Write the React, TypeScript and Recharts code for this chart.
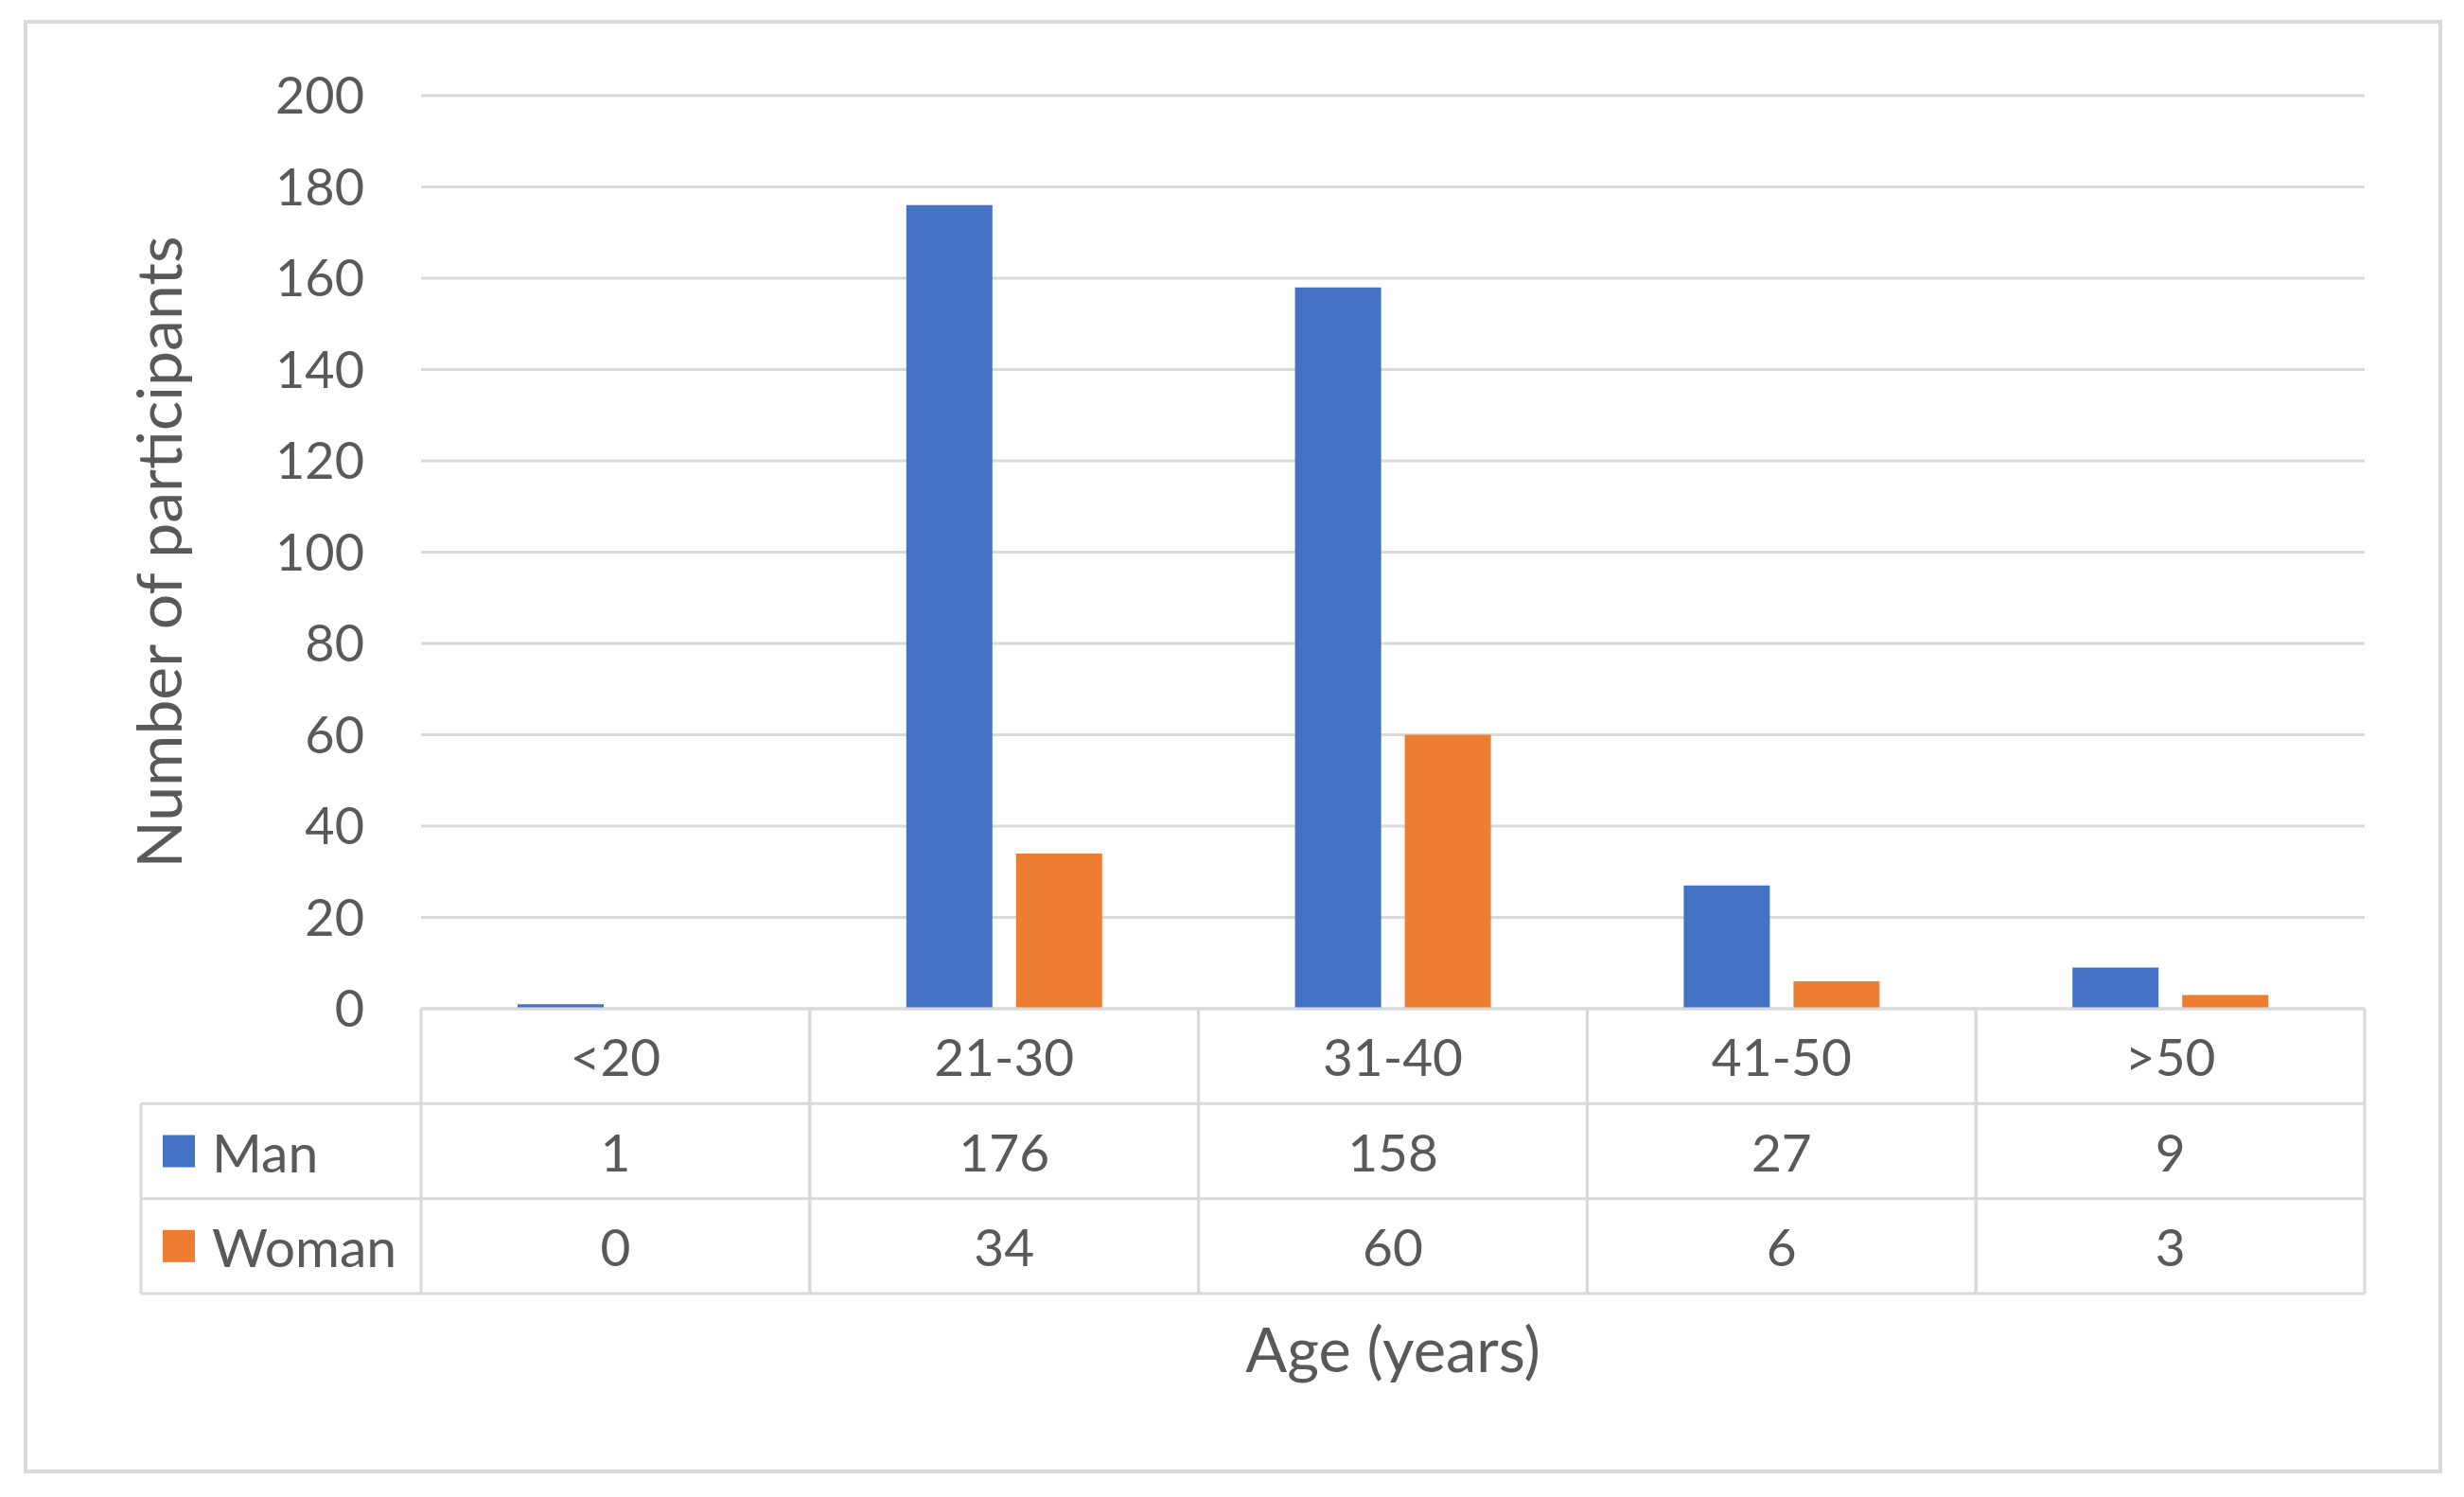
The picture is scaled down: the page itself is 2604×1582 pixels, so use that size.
import React from "react";
import { BarChart, Bar, XAxis, YAxis, CartesianGrid, Label } from "recharts";

// Age groups and counts
const categories = ["<20", "21-30", "31-40", "41-50", ">50"];
const manValues = [1, 176, 158, 27, 9];
const womanValues = [0, 34, 60, 6, 3];
const yTicks = [0, 20, 40, 60, 80, 100, 120, 140, 160, 180, 200];
const seriesNames = ["Man", "Woman"];
const seriesColors = ["#4472C4", "#ED7D31"];

const data = categories.map((age, i) => ({
  age,
  Man: manValues[i],
  Woman: womanValues[i],
}));

const FONT = "Lato, 'Open Sans', sans-serif";
const TEXT = "#595959";
const LINE = "#d9d9d9";

const WIDTH = 2604;
const HEIGHT = 1582;
const MARGIN = { top: 101, right: 105, bottom: 215, left: 100 };
const Y_AXIS_W = 345;
const X_AXIS_H = 301;
const PLOT_W = WIDTH - MARGIN.left - MARGIN.right - Y_AXIS_W;
const COL_W = PLOT_W / categories.length;
const ROW_H = X_AXIS_H / 3;
const LEGEND_W = 296;

// the data table under the chart, drawn one column per tick
const TableTick = (props: any) => {
  const { x, y, index, payload } = props;
  const left = x - COL_W / 2;
  const right = x + COL_W / 2;
  const rows = [manValues[index], womanValues[index]];
  const legendLeft = left - LEGEND_W;

  return (
    <g>
      <line x1={left} x2={right} y1={y} y2={y} stroke={LINE} strokeWidth={3} />
      {[1, 2, 3].map((r) => (
        <line
          key={r}
          x1={index === 0 ? legendLeft : left}
          x2={right}
          y1={y + r * ROW_H}
          y2={y + r * ROW_H}
          stroke={LINE}
          strokeWidth={3}
        />
      ))}
      <line x1={left} x2={left} y1={y} y2={y + 3 * ROW_H} stroke={LINE} strokeWidth={3} />
      <line x1={right} x2={right} y1={y} y2={y + 3 * ROW_H} stroke={LINE} strokeWidth={3} />
      <text
        x={x}
        y={y + ROW_H / 2}
        textAnchor="middle"
        dominantBaseline="central"
        fill={TEXT}
        fontSize={55}
        fontFamily={FONT}
      >
        {payload.value}
      </text>
      {rows.map((v, r) => (
        <text
          key={r}
          x={x}
          y={y + ROW_H * (r + 1.5)}
          textAnchor="middle"
          dominantBaseline="central"
          fill={TEXT}
          fontSize={55}
          fontFamily={FONT}
        >
          {v}
        </text>
      ))}
      {index === 0 && (
        <g>
          <line
            x1={legendLeft}
            x2={legendLeft}
            y1={y + ROW_H}
            y2={y + 3 * ROW_H}
            stroke={LINE}
            strokeWidth={3}
          />
          {seriesNames.map((name, r) => (
            <g key={name}>
              <rect
                x={legendLeft + 23}
                y={y + ROW_H * (r + 1.5) - 17}
                width={34}
                height={34}
                fill={seriesColors[r]}
              />
              <text
                x={legendLeft + 75}
                y={y + ROW_H * (r + 1.5)}
                dominantBaseline="central"
                fill={TEXT}
                fontSize={57}
                fontFamily={FONT}
              >
                {name}
              </text>
            </g>
          ))}
        </g>
      )}
    </g>
  );
};

export default function App() {
  return (
    <div
      style={{
        position: "fixed",
        left: 0,
        top: 0,
        width: WIDTH,
        height: HEIGHT,
        background: "#fff",
      }}
    >
      <div
        style={{
          position: "absolute",
          left: 25,
          top: 21,
          width: 2556,
          height: 1536,
          border: `4px solid ${LINE}`,
          boxSizing: "border-box",
        }}
      />
      <div style={{ position: "absolute", left: 0, top: 0 }}>
        <BarChart
          width={WIDTH}
          height={HEIGHT}
          data={data}
          margin={MARGIN}
          barSize={91}
          barGap={25}
        >
          <CartesianGrid vertical={false} stroke={LINE} strokeWidth={3} />
          <XAxis
            dataKey="age"
            height={X_AXIS_H}
            axisLine={false}
            tickLine={false}
            tickSize={0}
            tickMargin={0}
            interval={0}
            tick={<TableTick />}
          >
            <Label
              content={(p: any) => {
                const vb = p.viewBox;
                return (
                  <text
                    x={vb.x + vb.width / 2}
                    y={vb.y + vb.height + 58}
                    textAnchor="middle"
                    dominantBaseline="central"
                    fill={TEXT}
                    fontSize={65}
                    fontFamily={FONT}
                  >
                    Age (years)
                  </text>
                );
              }}
            />
          </XAxis>
          <YAxis
            width={Y_AXIS_W}
            domain={[0, 200]}
            ticks={yTicks}
            axisLine={false}
            tickLine={false}
            tickSize={0}
            tickMargin={60}
            tick={{ fill: TEXT, fontSize: 54, fontFamily: FONT }}
          >
            <Label
              content={(p: any) => {
                const vb = p.viewBox;
                const cx = vb.x + 66;
                const cy = vb.y + vb.height / 2;
                return (
                  <text
                    x={cx}
                    y={cy}
                    transform={`rotate(-90 ${cx} ${cy})`}
                    textAnchor="middle"
                    dominantBaseline="central"
                    fill={TEXT}
                    fontSize={66}
                    fontFamily={FONT}
                  >
                    Number of participants
                  </text>
                );
              }}
            />
          </YAxis>
          <Bar dataKey="Man" fill={seriesColors[0]} isAnimationActive={false} />
          <Bar dataKey="Woman" fill={seriesColors[1]} isAnimationActive={false} />
        </BarChart>
      </div>
    </div>
  );
}
